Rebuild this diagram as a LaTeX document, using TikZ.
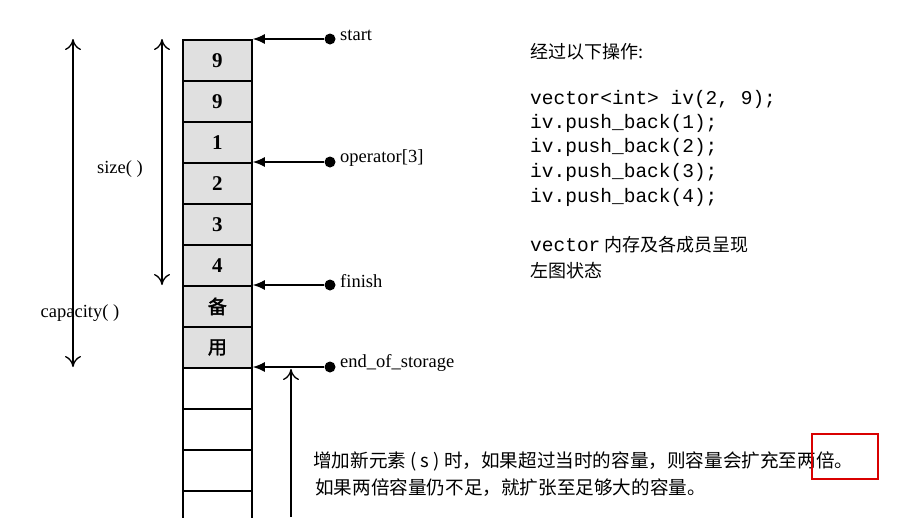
\documentclass[tikz,border=0pt]{standalone}
\usepackage{fontspec}
\setmainfont{Liberation Serif}
\setmonofont{Liberation Mono}
\newfontfamily\cjk{Noto Sans CJK SC}
\newfontfamily\cjkserif{Noto Sans CJK SC}[FakeBold=2]
\usetikzlibrary{arrows.meta}
\begin{document}
\begin{tikzpicture}[x=1pt,y=-1pt,
  cell/.style={draw,line width=1.8pt,minimum width=69pt,minimum height=41pt,anchor=north west,inner sep=0pt,font=\bfseries\fontsize{21}{21}\selectfont},
  full/.style={cell,fill=black!12},
  ptr/.style={-{Latex[length=12pt,width=10pt]},line width=1.5pt},
  dot/.style={circle,fill=black,inner sep=0pt,minimum size=11pt},
  lbl/.style={font=\fontsize{18.5}{18.5}\selectfont,anchor=west,inner sep=1pt},
  dim/.style={{To[length=11pt,width=16pt]}-{To[length=11pt,width=16pt]},line width=1.3pt},
  txt/.style={anchor=west,inner sep=0pt,font=\cjk\fontsize{18}{18}\selectfont},
  code/.style={anchor=west,inner sep=0pt,font=\ttfamily\fontsize{19.5}{19.5}\selectfont}]
\useasboundingbox (0,0) rectangle (912,517);
\node[full] (c1) at (182,39) {9};
\node[full] (c2) at (182,80) {9};
\node[full] (c3) at (182,121) {1};
\node[full] (c4) at (182,162) {2};
\node[full] (c5) at (182,203) {3};
\node[full] (c6) at (182,244) {4};
\node[full,font=\cjkserif\fontsize{19}{19}\selectfont] (c7) at (182,285) {备};
\node[full,font=\cjkserif\fontsize{19}{19}\selectfont] (c8) at (182,326) {用};
\node[cell] (c9) at (182,367) {};
\node[cell] (c10) at (182,408) {};
\node[cell] (c11) at (182,449) {};
\node[cell,minimum height=60pt] (c12) at (182,490) {};
\fill[white] (170,518) rectangle (260,560);
% pointers
\node[dot] (ds) at (330,39) {};
\node[dot] (do) at (330,162) {};
\node[dot] (df) at (330,285) {};
\node[dot] (de) at (330,367) {};
\node[lbl] at (339,35) {start};
\node[lbl] at (339,158) {operator[3]};
\node[lbl] at (339,281) {finish};
\node[lbl] at (339,363) {end\_of\_storage};
\draw[ptr] (ds) -- (c1.north east);
\draw[ptr] (do) -- (c4.north east);
\draw[ptr] (df) -- (c7.north east);
\draw[ptr] (de) -- (c9.north east);
% dimensions
\coordinate (s1) at (162,39); \coordinate (s2) at (162,285);
\coordinate (k1) at (73,39); \coordinate (k2) at (73,367);
\draw[dim] (s1) -- (s2);
\draw[dim] (k1) -- (k2);
\node[lbl,anchor=center] at (120,169) {size( )};
\node[lbl,anchor=center] at (80,313) {capacity( )};
% growth arrow
\coordinate (g1) at (291,517); \coordinate (g2) at (291,369);
\draw[-{To[length=11pt,width=16pt]},line width=1.3pt] (g1) -- (g2);
% right text
\node[txt] at (530,52) {经过以下操作:};
\node[code] at (530,99) {vector<int> iv(2, 9);};
\node[code] at (530,123) {iv.push\_back(1);};
\node[code] at (530,147) {iv.push\_back(2);};
\node[code] at (530,172) {iv.push\_back(3);};
\node[code] at (530,197) {iv.push\_back(4);};
\node[txt] at (530,245) {{\ttfamily\fontsize{19.5}{19.5}\selectfont vector} 内存及各成员呈现};
\node[txt] at (530,271) {左图状态};
\node[txt,font=\cjk\fontsize{18.6}{18.6}\selectfont] at (313,461) {增加新元素 ( s ) 时，如果超过当时的容量，则容量会扩充至两倍。};
\node[txt,font=\cjk\fontsize{18.6}{18.6}\selectfont] at (315,488) {如果两倍容量仍不足，就扩张至足够大的容量。};
\draw[red!85!black,line width=2pt] (812,434) rectangle (878,479);
\end{tikzpicture}
\end{document}
